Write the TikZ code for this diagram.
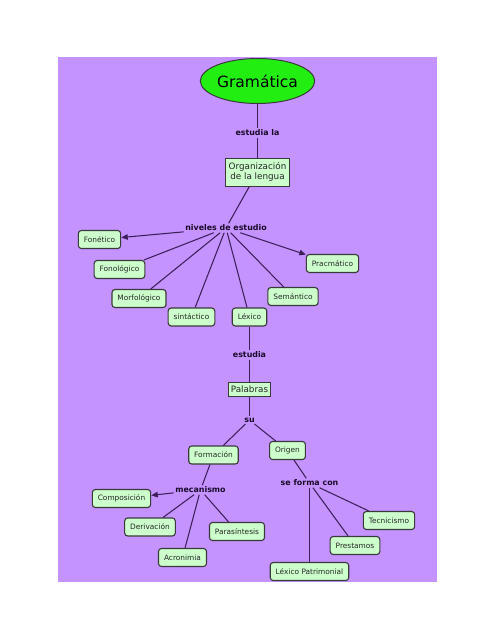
\documentclass[tikz,border=0pt]{standalone}
\usepackage{fontspec}
\setmainfont{DejaVu Sans}
\usetikzlibrary{arrows.meta,shapes.geometric}
\definecolor{bgpurple}{HTML}{C493FF}
\definecolor{nodegreen}{HTML}{CCFFCC}
\definecolor{ellgreen}{HTML}{22EE11}
\definecolor{linec}{HTML}{3C1E5A}
\definecolor{bordc}{HTML}{3A3A3A}
\definecolor{lblc}{HTML}{1A0A2A}
\begin{document}
\begin{tikzpicture}[x=1pt,y=-1pt,
 concept/.style={draw=bordc, line width=1.1pt, fill=nodegreen, rounded corners=3pt,
   font=\fontsize{7.4}{8.5}\selectfont, inner xsep=5.5pt, inner ysep=0pt, minimum height=18pt, text=black!85},
 boxc/.style={draw=bordc, line width=1pt, fill=nodegreen, font=\fontsize{8.8}{10.5}\selectfont,
   inner xsep=3pt, inner ysep=2pt, align=center, text=black!85},
 lbl/.style={font=\bfseries\fontsize{7.9}{9}\selectfont, inner sep=1.5pt, text=lblc},
 conn/.style={draw=linec, line width=1.05pt},
 arr/.style={conn, -{Triangle[length=6.5pt,width=5.5pt]}},
]
\useasboundingbox (0,0) rectangle (495,640);
\fill[white] (0,0) rectangle (495,640);
\fill[bgpurple] (58,57) rectangle (437,582);

% main nodes
\node[ellipse, draw=bordc, line width=1pt, fill=ellgreen, minimum width=102pt, minimum height=45pt,
  inner sep=0pt, font=\fontsize{15.5}{18}\selectfont] (gram) at (257.5,81) {Gramática};
\node[lbl] (estla) at (257.5,133) {estudia la};
\node[boxc, minimum height=28pt] (org) at (257.5,172) {Organización\\de la lengua};
\node[lbl] (niv) at (226,228) {niveles de estudio};

\node[concept] (fonet) at (99.5,239.5) {Fonético};
\node[concept] (fonol) at (119.5,269.5) {Fonológico};
\node[concept] (morf) at (139,298.5) {Morfológico};
\node[concept] (sint) at (191.5,317) {sintáctico};
\node[concept] (lex) at (249.5,317) {Léxico};
\node[concept] (sem) at (293,296.5) {Semántico};
\node[concept] (prac) at (332.5,263.5) {Pracmático};

\node[lbl] (est) at (249.5,355) {estudia};
\node[boxc, inner xsep=2pt, inner ysep=1pt, minimum height=14pt] (pal) at (249.5,389) {Palabras};
\node[lbl] (su) at (249.5,420) {su};

\node[concept] (form) at (213.5,455) {Formación};
\node[concept] (orig) at (287.5,450.5) {Origen};

\node[lbl] (mec) at (200.5,490) {mecanismo};
\node[concept] (comp) at (121.5,498.5) {Composición};
\node[concept] (deriv) at (150,527) {Derivación};
\node[concept] (acro) at (182.5,557.5) {Acronimia};
\node[concept] (para) at (237,531.5) {Parasíntesis};

\node[lbl] (sfc) at (309.5,483) {se forma con};
\node[concept] (tec) at (389,520.5) {Tecnicismo};
\node[concept] (pres) at (355,545.5) {Prestamos};
\node[concept] (lexp) at (309.5,571.5) {Léxico Patrimonial};

% connectors
\draw[conn] (gram) -- (estla);
\draw[conn] (estla) -- (org);
\draw[conn] (org) -- (niv);
\draw[arr] (niv) -- (fonet);
\draw[conn] (niv) -- (fonol);
\draw[conn] (niv) -- (morf);
\draw[conn] (niv) -- (sint);
\draw[conn] (niv) -- (lex);
\draw[conn] (niv) -- (sem);
\draw[arr] (niv) -- (prac);

\draw[conn] (lex) -- (est);
\draw[conn] (est) -- (pal);
\draw[conn] (pal) -- (su);
\draw[conn] (su) -- (form);
\draw[conn] (su) -- (orig);

\draw[conn] (form) -- (mec);
\draw[arr] (mec) -- (comp);
\draw[conn] (mec) -- (deriv);
\draw[conn] (mec) -- (acro);
\draw[conn] (mec) -- (para);

\draw[conn] (orig) -- (sfc);
\draw[conn] (sfc) -- (tec);
\draw[conn] (sfc) -- (pres);
\draw[conn] (sfc) -- (lexp);
\end{tikzpicture}
\end{document}
